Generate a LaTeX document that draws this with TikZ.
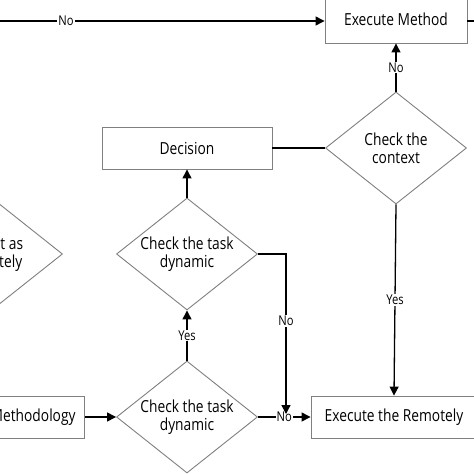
\documentclass[tikz,border=0pt]{standalone}
\usepackage{fontspec}
\setmainfont{Open Sans}[FakeStretch=0.83]
\usetikzlibrary{arrows.meta,shapes.geometric}
\begin{document}
\begin{tikzpicture}[x=1pt,y=-1pt,
  box/.style={draw=black!50, line width=0.9pt, rectangle, minimum height=42pt, inner sep=0pt,
    font=\fontsize{16.6}{18}\selectfont, align=center},
  dia/.style={draw=black!50, line width=0.9pt, diamond, aspect=1.26, minimum width=141pt,
    minimum height=112pt, inner sep=0pt, font=\fontsize{16.6}{18}\selectfont, align=center},
  conn/.style={line width=1.3pt, draw=black},
  arr/.style={conn, -{Triangle[length=9pt,width=9pt]}},
  lbl/.style={fill=white, inner sep=1pt, font=\fontsize{13.5}{15}\selectfont}
]
\useasboundingbox (0,0) rectangle (474,474);
\fill[white] (0,0) rectangle (474,474);

% nodes
\node[box, minimum width=142pt, minimum height=48pt] (em) at (396,19) {Execute Method};
\node[dia] (ctx) at (396,148) {Check the\\context};
\node[box, minimum width=170pt] (dec) at (187,148) {Decision};
\node[dia] (td1) at (187,254) {Check the task\\dynamic};
\node[dia] (td2) at (187,417) {Check the task\\dynamic};
\node[dia] (ld) at (-8,254) {Treat it as\\Remotely};
\node[box, anchor=east, text width=150pt, align=right, inner xsep=9pt] (meth) at (85,417) {Methodology};
\node[box, minimum width=166pt] (rem) at (394,417) {Execute the Remotely};

\coordinate (inL) at (-10,21);
\coordinate (outR) at (485,21);
\coordinate (bend) at (286,254);
\coordinate (j) at (286,414);

% connectors
\draw[arr] (inL) -- node[lbl, pos=0.227] {No} (inL -| em.west);
\draw[conn] (em.east |- outR) -- (outR);
\draw[arr] (ctx.north) -- node[lbl] {No} (em.south);
\draw[conn] (dec.east) -- (ctx.west);
\draw[arr] (td1.north) -- (dec.south);
\draw[arr] (td2.north) -- node[lbl] {Yes} (td1.south);
\draw[arr] (meth.east) -- (td2.west);
\draw[arr] (td2.east) -- node[lbl] {No} (rem.west);
\draw[arr] (td1.east) -- (bend) -- node[lbl, pos=0.42] {No} (j);
\draw[arr] (ctx.south) -- node[lbl] {Yes} (rem.north);
\end{tikzpicture}
\end{document}
